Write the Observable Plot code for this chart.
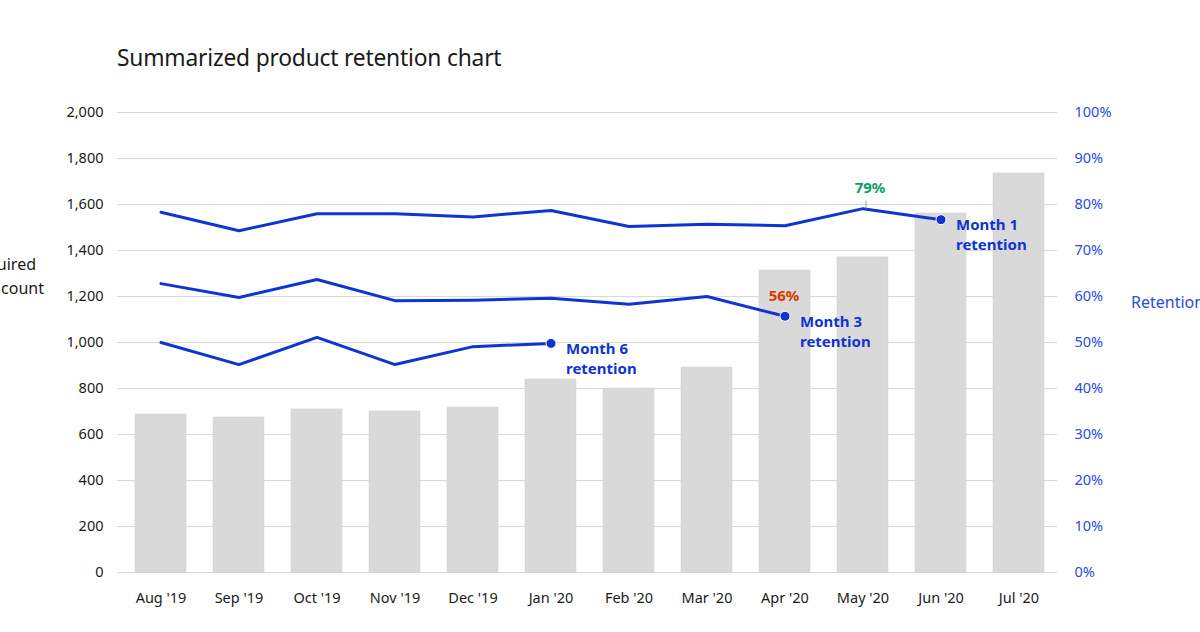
<!DOCTYPE html>
<html>
<head>
<meta charset="utf-8">
<script src="https://cdn.jsdelivr.net/npm/d3@7"></script>
<script src="https://cdn.jsdelivr.net/npm/@observablehq/plot@0.6"></script>
<style>
  html, body { margin: 0; padding: 0; background: #fff; overflow: hidden; }
  body { width: 1200px; height: 632px; position: relative; font-family: "Noto Sans", "Open Sans", sans-serif; }
  #title { height: 90px; box-sizing: border-box; padding: 47px 0 0 117px; font-size: 22.8px; color: #1a1a1a; line-height: 1; letter-spacing: -0.2px; }
  #chart svg { display: block; overflow: visible; }
</style>
</head>
<body>
<div id="title">Summarized product retention chart</div>
<div id="chart"></div>
<script>
const months = ["Aug '19","Sep '19","Oct '19","Nov '19","Dec '19","Jan '20","Feb '20","Mar '20","Apr '20","May '20","Jun '20","Jul '20"];
const acquired = [687, 674, 709, 700, 717, 839, 800, 891, 1313, 1370, 1561, 1735];
const month1Retention = [78.3, 74.3, 78.0, 78.0, 77.3, 78.7, 75.2, 75.7, 75.4, 79.1, 76.7];
const month3Retention = [62.8, 59.8, 63.7, 59.1, 59.2, 59.6, 58.3, 60.0, 55.7];
const month6Retention = [50.0, 45.2, 51.1, 45.2, 49.1, 49.8];
const leftTicks = [0, 200, 400, 600, 800, 1000, 1200, 1400, 1600, 1800, 2000];
const rightTicks = [0, 10, 20, 30, 40, 50, 60, 70, 80, 90, 100];
const seriesNames = ["Month 1 retention", "Month 3 retention", "Month 6 retention"];

const blue = "#1034d2";
const scaleK = 2000 / 100; // percent -> left-axis units

const bars = months.map((m, i) => ({month: m, value: acquired[i]}));
const series = [month1Retention, month3Retention, month6Retention];
const lines = series.flatMap((arr, s) => arr.map((v, i) => ({series: seriesNames[s], month: months[i], pct: v})));
const ends = series.map((arr, s) => ({series: seriesNames[s], month: months[arr.length - 1], pct: arr[arr.length - 1]}));
const callout79 = [{month: months[9], pct: month1Retention[9], text: Math.round(month1Retention[9]) + "%"}];
const callout56 = [{month: months[8], pct: month3Retention[8], text: Math.round(month3Retention[8]) + "%"}];

const chart = Plot.plot({
  width: 1200,
  height: 542,
  marginTop: 22,
  marginBottom: 60,
  marginLeft: 117,
  marginRight: 143,
  style: {fontFamily: "'Noto Sans', 'Open Sans', sans-serif", fontSize: "14px", color: "#1a1a1a", background: "transparent"},
  x: {type: "band", domain: months, paddingInner: 0.35, paddingOuter: 0.192, align: 0.567, label: null},
  y: {domain: [0, 2000], label: null},
  marks: [
    Plot.gridY(leftTicks, {stroke: "#d9d9d9", strokeOpacity: 1, strokeWidth: 1}),
    Plot.barY(bars, {x: "month", y: "value", fill: "#d9d9d9", stroke: "#cfcfcf", strokeWidth: 0.5}),
    Plot.axisX({tickSize: 0, tickPadding: 20, fontSize: 14.5, fill: "#1a1a1a"}),
    Plot.axisY(leftTicks, {anchor: "left", tickSize: 0, tickPadding: 14, fontSize: 14.5, tickFormat: d3.format(","), fill: "#1a1a1a"}),
    Plot.axisY(rightTicks.map(t => t * scaleK), {anchor: "right", tickSize: 0, tickPadding: 17, fontSize: 14.5, tickFormat: d => (d / scaleK) + "%", fill: "#2a4be0"}),
    Plot.lineY(lines, {x: "month", y: d => d.pct * scaleK, z: "series", stroke: blue, strokeWidth: 3, curve: "linear"}),
    Plot.dot(ends, {x: "month", y: d => d.pct * scaleK, r: 5, fill: blue, stroke: "white", strokeWidth: 1}),
    Plot.text(ends, {x: "month", y: d => d.pct * scaleK, text: d => d.series.replace(" retention", "\nretention"), textAnchor: "start", lineAnchor: "top", dx: 15, dy: -4, fill: blue, fontWeight: "bold", fontSize: 15, lineHeight: 1.35}),
    Plot.link(callout79, {x1: "month", x2: "month", y1: d => d.pct * scaleK, y2: d => d.pct * scaleK + 35, dx: 3, stroke: "#a0a0a0", strokeWidth: 1}),
    Plot.text(callout79, {x: "month", y: d => d.pct * scaleK, text: "text", fill: "#0a9e6a", fontWeight: "bold", fontSize: 15, dy: -20, dx: 7}),
    Plot.text(callout56, {x: "month", y: d => d.pct * scaleK, text: "text", fill: "#d83b01", fontWeight: "bold", fontSize: 15, dy: -20, dx: -1})
  ]
});
document.getElementById("chart").appendChild(chart);

// Axis titles (partially off the page, as in the reference)
const svg = d3.select(chart);
const leftTitle = svg.append("text").attr("fill", "#1a1a1a").attr("font-size", 16).attr("text-anchor", "end");
leftTitle.append("tspan").attr("x", 36).attr("y", 180).text("Acquired");
leftTitle.append("tspan").attr("x", 44).attr("y", 204).text("Account count");
svg.append("text").attr("x", 1131).attr("y", 218).attr("text-anchor", "start").attr("fill", "#2a4be0").attr("font-size", 16).text("Retention");
</script>
</body>
</html>
